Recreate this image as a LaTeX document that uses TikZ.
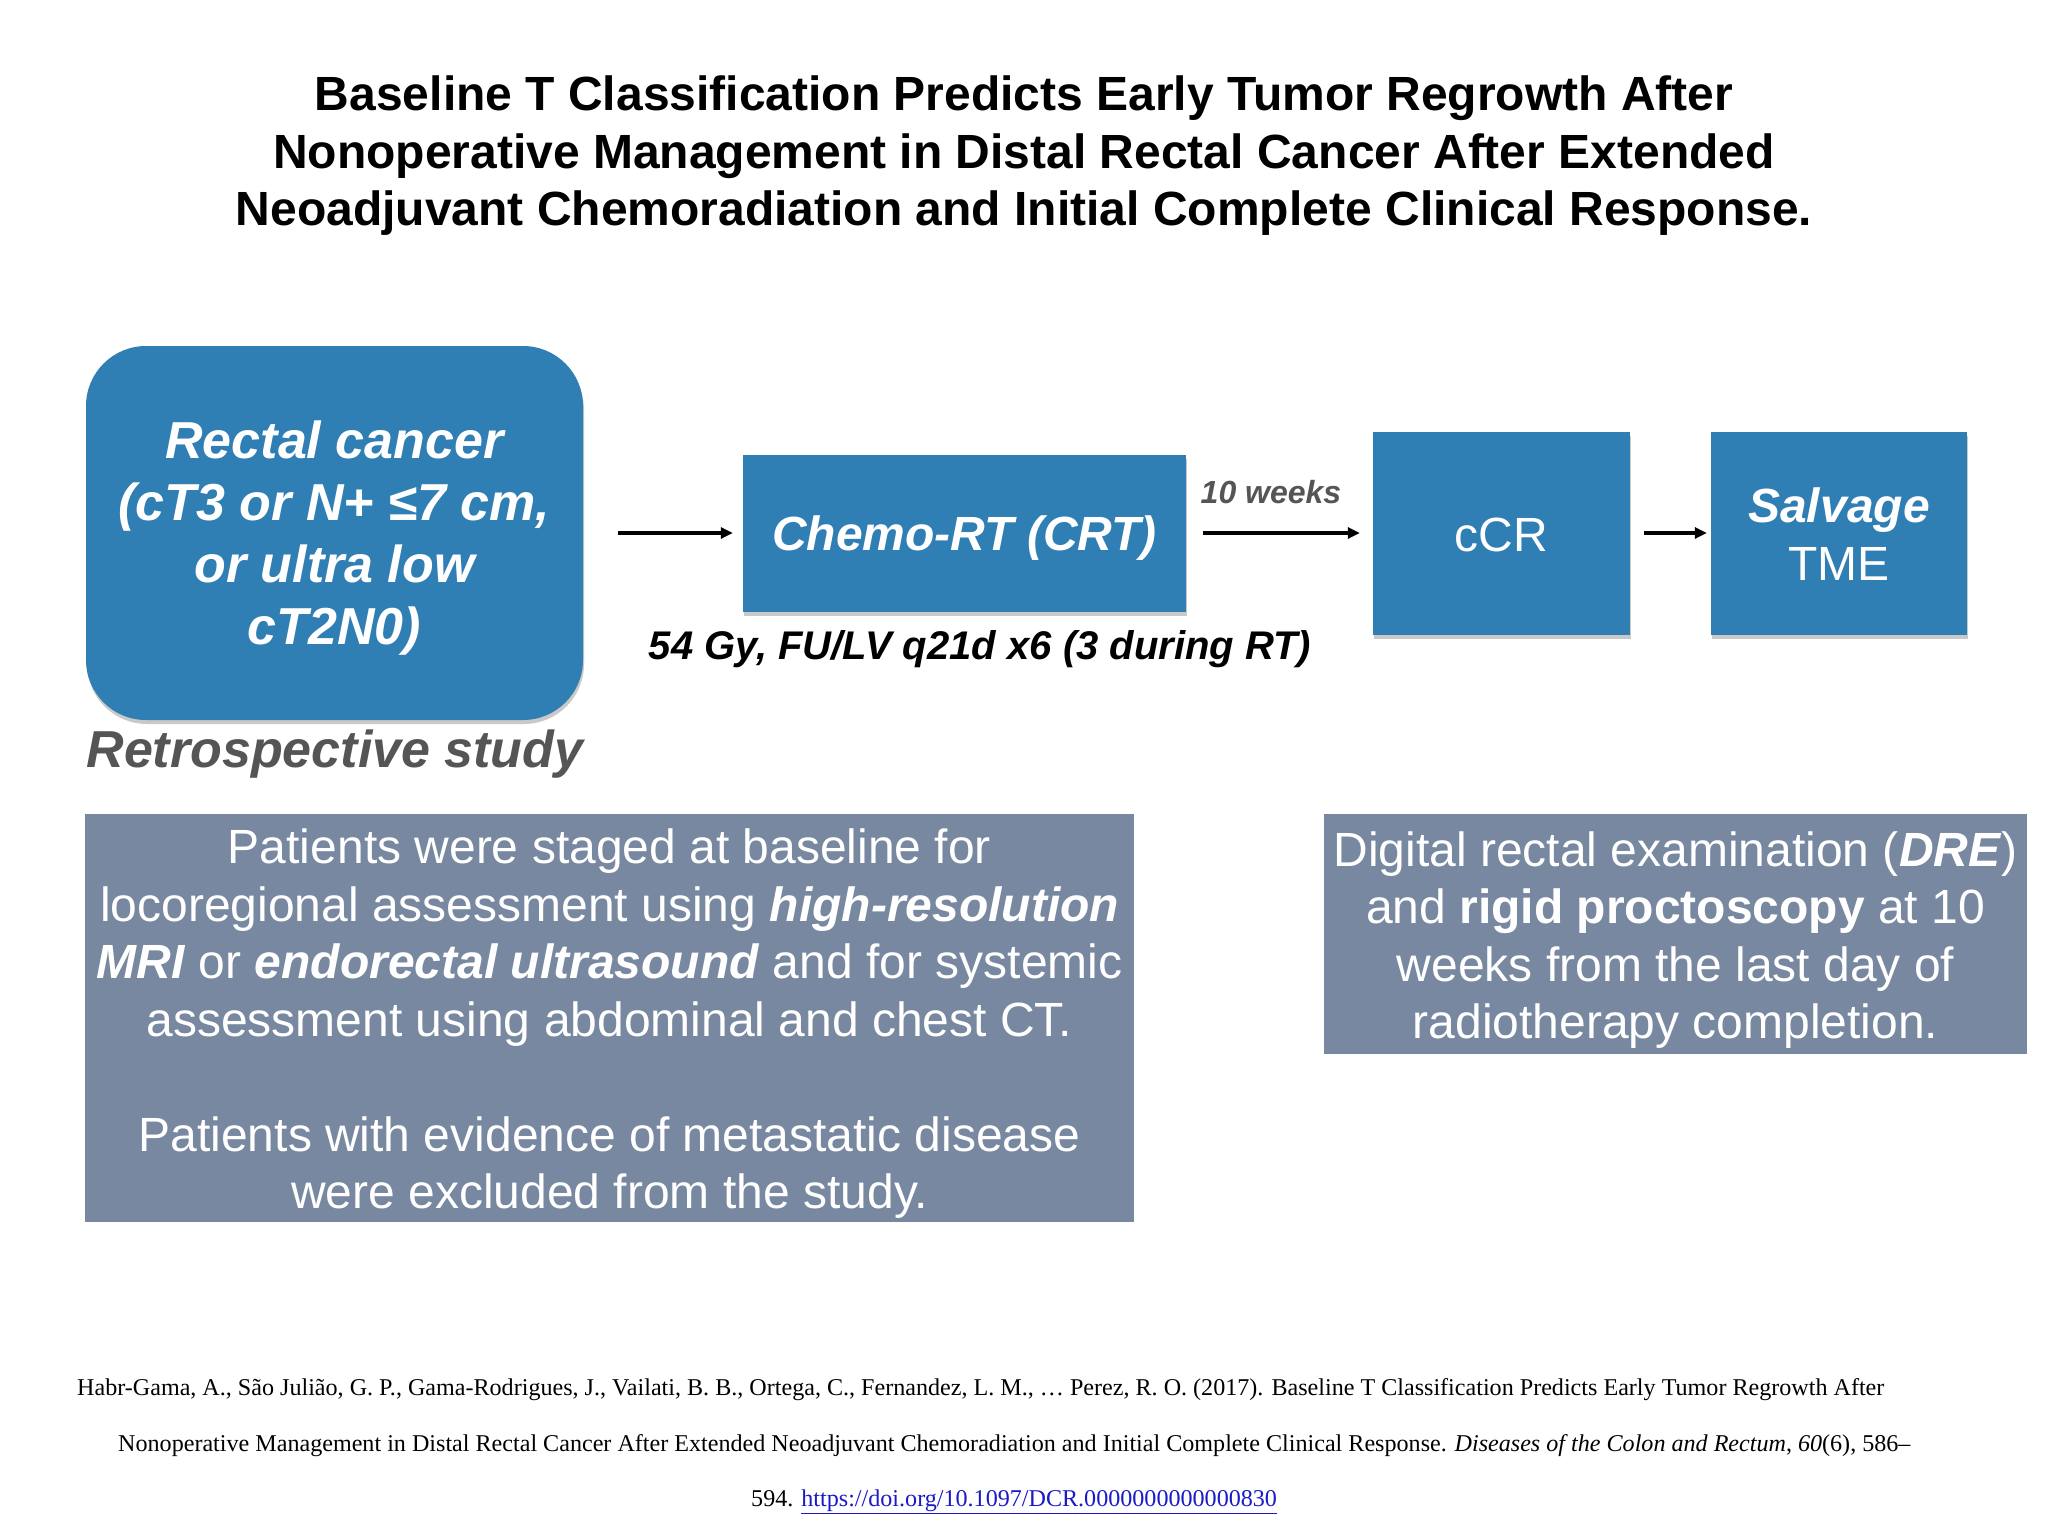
\documentclass[tikz,border=0pt]{standalone}
\usepackage{fontspec}
\setmainfont{Liberation Sans}
\newfontfamily\citefont{Liberation Serif}
\usetikzlibrary{shadows,arrows.meta}
\definecolor{boxblue}{HTML}{2F7EB4}
\definecolor{boxgray}{HTML}{7888A0}
\definecolor{labelgray}{HTML}{555555}
\definecolor{linkblue}{HTML}{1A1AC8}
\begin{document}
\begin{tikzpicture}[x=1pt,y=-1pt,
  bluebox/.style={fill=boxblue, draw=none, inner sep=0pt,
    drop shadow={shadow xshift=1pt, shadow yshift=-4pt, opacity=0.35, fill=black!60}},
  graybox/.style={fill=boxgray, draw=none, inner sep=0pt},
  boxtext/.style={text=white, align=center, inner sep=0pt},
  flowarrow/.style={line width=3.2pt, -{Triangle[length=12pt,width=11pt]}},
  titlefont/.style={font=\fontsize{48}{57.5}\selectfont\bfseries},
  bodyfont/.style={font=\fontsize{48}{57.5}\selectfont},
  citetext/.style={font=\citefont\fontsize{24.1}{28}\selectfont, inner sep=0pt}
]
\useasboundingbox (0,0) rectangle (2048,1536);
\fill[white] (0,0) rectangle (2048,1536);

% title
\node[titlefont, align=center] (title) at (1024,156)
  {Baseline T Classification Predicts Early Tumor Regrowth After\\
   Nonoperative Management in Distal Rectal Cancer After Extended\\
   Neoadjuvant Chemoradiation and Initial Complete Clinical Response.};

% flow boxes
\node[bluebox, rounded corners=60pt, minimum width=497pt, minimum height=374pt] (rectal) at (334.5,533) {};
\node[boxtext, font=\fontsize{52}{62}\selectfont\bfseries\itshape] (rectaltext) at ([yshift=-5pt]rectal.center)
  {Rectal cancer\\(cT3 or N+ ≤7 cm,\\or ultra low\\cT2N0)};
\node[bluebox, minimum width=443pt, minimum height=157pt] (crt) at (964.5,533) {};
\node[boxtext, font=\fontsize{48}{57.5}\selectfont\bfseries\itshape] (crttext) at ([yshift=-5pt]crt.center)
  {Chemo-RT (CRT)};
\node[bluebox, minimum width=257pt, minimum height=203pt] (ccr) at (1501.5,533) {};
\node[boxtext, bodyfont] (ccrtext) at ([yshift=-2pt]ccr.center) {cCR};
\node[bluebox, minimum width=256pt, minimum height=203pt] (tme) at (1839,533) {};
\node[boxtext, bodyfont] (tmetext) at ([yshift=-1pt]tme.center)
  {\textbf{\textit{Salvage}}\\TME};

% arrows
\draw[flowarrow, shorten <=35pt, shorten >=10pt] (rectal.east) -- (crt.west);
\draw[flowarrow, shorten <=17pt, shorten >=13pt] (crt.east) -- (ccr.west);
\draw[flowarrow, shorten <=14pt, shorten >=4pt] (ccr.east) -- (tme.west);

% labels
\node[font=\fontsize{32}{38}\selectfont\bfseries\itshape, text=labelgray] (weeks) at (1271,492) {10 weeks};
\node[font=\fontsize{40}{48}\selectfont\bfseries\itshape] (dose) at (980,649) {54 Gy, FU/LV q21d x6 (3 during RT)};
\node[font=\fontsize{52}{62}\selectfont\bfseries\itshape, text=labelgray] (retro) at (335,754) {Retrospective study};

% gray boxes
\node[graybox, minimum width=1049pt, minimum height=408pt] (staging) at (609.5,1018) {};
\node[boxtext, bodyfont] (stagingtext) at ([yshift=-6pt]staging.center)
  {Patients were staged at baseline for\\
   locoregional assessment using \textbf{\textit{high-resolution}}\\
   \textbf{\textit{MRI}} or \textbf{\textit{endorectal ultrasound}} and for systemic\\
   assessment using abdominal and chest CT.\\[57.5pt]
   Patients with evidence of metastatic disease\\
   were excluded from the study.};
\node[graybox, minimum width=703pt, minimum height=240pt] (dre) at (1675.5,934) {};
\node[boxtext, bodyfont] (dretext) at ([yshift=-6pt]dre.center)
  {Digital rectal examination (\textbf{\textit{DRE}})\\
   and \textbf{rigid proctoscopy} at 10\\
   weeks from the last day of\\
   radiotherapy completion.};

% citation
\node[citetext, anchor=west] (cite1) at (77,1390)
  {Habr-Gama, A., São Julião, G. P., Gama-Rodrigues, J., Vailati, B. B., Ortega, C., Fernandez, L. M., … Perez, R. O. (2017). Baseline T Classification Predicts Early Tumor Regrowth After};
\node[citetext, anchor=west] (cite2) at (118,1446)
  {Nonoperative Management in Distal Rectal Cancer After Extended Neoadjuvant Chemoradiation and Initial Complete Clinical Response. \textit{Diseases of the Colon and Rectum}, \textit{60}(6), 586–};
\node[citetext, anchor=west] (cite3) at (751,1502)
  {594. \textcolor{linkblue}{\underline{https://doi.org/10.1097/DCR.0000000000000830}}};
\end{tikzpicture}
\end{document}
